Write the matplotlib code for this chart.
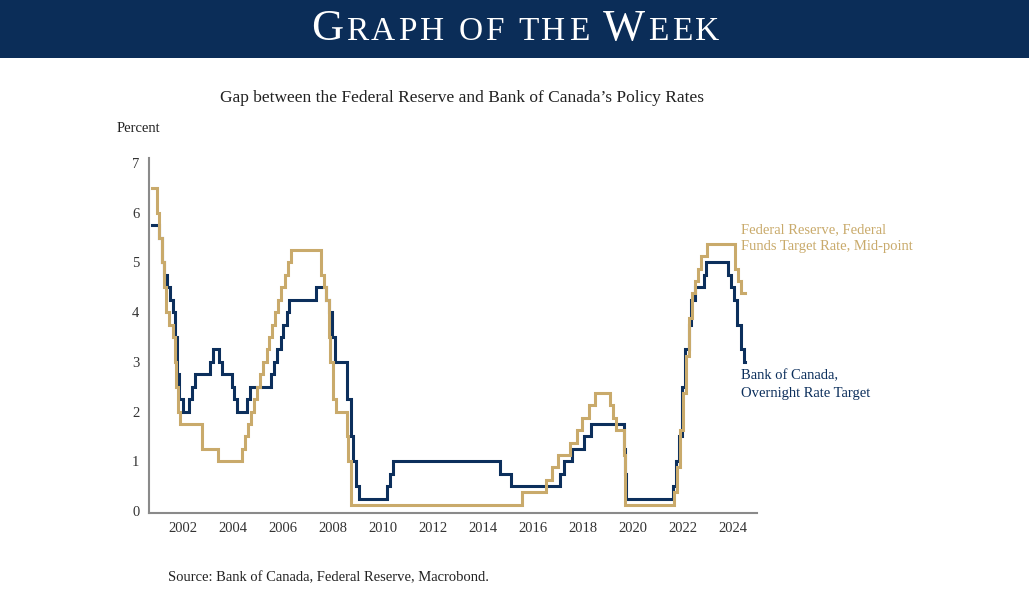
import datetime as dt
import matplotlib
matplotlib.use("Agg")
import matplotlib.pyplot as plt
from matplotlib.patches import Rectangle

# Federal Reserve target rate (mid-point of range after Dec 2008), change dates
fed_dates = ["2000-10-10", "2001-01-03", "2001-01-31", "2001-03-20", "2001-04-18", "2001-05-15",
             "2001-06-27", "2001-08-21", "2001-09-17", "2001-10-02", "2001-11-06", "2001-12-11",
             "2002-11-06", "2003-06-25", "2004-06-30", "2004-08-10", "2004-09-21", "2004-11-10",
             "2004-12-14", "2005-02-02", "2005-03-22", "2005-05-03", "2005-06-30", "2005-08-09",
             "2005-09-20", "2005-11-01", "2005-12-13", "2006-01-31", "2006-03-28", "2006-05-10",
             "2006-06-29", "2007-09-18", "2007-10-31", "2007-12-11", "2008-01-22", "2008-01-30",
             "2008-03-18", "2008-04-30", "2008-10-08", "2008-10-29", "2008-12-16", "2015-12-16",
             "2016-12-14", "2017-03-15", "2017-06-14", "2017-12-13", "2018-03-21", "2018-06-13",
             "2018-09-26", "2018-12-19", "2019-07-31", "2019-09-18", "2019-10-30", "2020-03-03",
             "2020-03-15", "2022-03-16", "2022-05-04", "2022-06-15", "2022-07-27", "2022-09-21",
             "2022-11-02", "2022-12-14", "2023-02-01", "2023-03-22", "2023-05-03", "2023-07-26",
             "2024-09-18", "2024-11-07", "2024-12-18", "2025-02-15"]
fed_rates = [6.5, 6.0, 5.5, 5.0, 4.5, 4.0,
             3.75, 3.5, 3.0, 2.5, 2.0, 1.75,
             1.25, 1.0, 1.25, 1.5, 1.75, 2.0,
             2.25, 2.5, 2.75, 3.0, 3.25, 3.5,
             3.75, 4.0, 4.25, 4.5, 4.75, 5.0,
             5.25, 4.75, 4.5, 4.25, 3.5, 3.0,
             2.25, 2.0, 1.5, 1.0, 0.125, 0.375,
             0.625, 0.875, 1.125, 1.375, 1.625, 1.875,
             2.125, 2.375, 2.125, 1.875, 1.625, 1.125,
             0.125, 0.375, 0.875, 1.625, 2.375, 3.125,
             3.875, 4.375, 4.625, 4.875, 5.125, 5.375,
             4.875, 4.625, 4.375, 4.375]

# Bank of Canada overnight rate target, change dates
boc_dates = ["2000-10-10", "2001-01-23", "2001-03-06", "2001-04-17", "2001-05-29", "2001-07-17",
             "2001-08-28", "2001-09-17", "2001-10-23", "2001-11-27", "2002-01-15", "2002-04-16",
             "2002-06-04", "2002-07-16", "2003-03-04", "2003-04-15", "2003-07-15", "2003-09-03",
             "2004-01-20", "2004-03-02", "2004-04-13", "2004-09-08", "2004-10-19", "2005-09-07",
             "2005-10-18", "2005-12-06", "2006-01-24", "2006-03-07", "2006-04-25", "2006-05-24",
             "2007-07-10", "2007-12-04", "2008-01-22", "2008-03-04", "2008-04-22", "2008-10-08",
             "2008-10-21", "2008-12-09", "2009-01-20", "2009-03-03", "2009-04-21", "2010-06-01",
             "2010-07-20", "2010-09-08", "2015-01-21", "2015-07-15", "2017-07-12", "2017-09-06",
             "2018-01-17", "2018-07-11", "2018-10-24", "2020-03-04", "2020-03-13", "2020-03-27",
             "2022-03-02", "2022-04-13", "2022-06-01", "2022-07-13", "2022-09-07", "2022-10-26",
             "2022-12-07", "2023-01-25", "2023-06-07", "2023-07-12", "2024-06-05", "2024-07-24",
             "2024-09-04", "2024-10-23", "2024-12-11", "2025-01-29", "2025-02-15"]
boc_rates = [5.75, 5.5, 5.0, 4.75, 4.5, 4.25,
             4.0, 3.5, 2.75, 2.25, 2.0, 2.25,
             2.5, 2.75, 3.0, 3.25, 3.0, 2.75,
             2.5, 2.25, 2.0, 2.25, 2.5, 2.75,
             3.0, 3.25, 3.5, 3.75, 4.0, 4.25,
             4.5, 4.25, 4.0, 3.5, 3.0, 2.5,
             2.25, 1.5, 1.0, 0.5, 0.25, 0.5,
             0.75, 1.0, 0.75, 0.5, 0.75, 1.0,
             1.25, 1.5, 1.75, 1.25, 0.75, 0.25,
             0.5, 1.0, 1.5, 2.5, 3.25, 3.75,
             4.25, 4.5, 4.75, 5.0, 4.75, 4.5,
             4.25, 3.75, 3.25, 3.0, 3.0]

years = list(range(2002, 2025, 2))
yticks = list(range(0, 8))

NAVY = "#0c2f5c"
GOLD = "#c9aa6b"
SERIF = ["Liberation Serif", "DejaVu Serif"]


def to_year(s):
    d = dt.date.fromisoformat(s)
    start = dt.date(d.year, 1, 1)
    return d.year + (d - start).days / 365.25


plt.rcParams["font.family"] = SERIF

fig = plt.figure(figsize=(10.29, 6.07), dpi=100)

# banner
fig.patches.append(Rectangle((0, 0.9044), 1, 0.0956, transform=fig.transFigure,
                             facecolor="#0b2d58", edgecolor="none", zorder=0))

# small caps heading, one letter at a time with a little tracking
heading = "GRAPH OF THE WEEK"
big = {0, 13}
track = 3.0
renderer = fig.canvas.get_renderer()
texts = []
widths = []
for i, ch in enumerate(heading):
    size = 32 if i in big else 24
    t = fig.text(0, 0.934, ch, fontsize=size, color="white", va="baseline", ha="left")
    texts.append(t)
    widths.append(t.get_window_extent(renderer).width if ch != " " else size * 0.25 * 100 / 72)
total = sum(widths) + track * (len(heading) - 1)
x0 = 515 - total / 2
for t, w in zip(texts, widths):
    t.set_x(x0 / 1029)
    x0 += w + track

ax = fig.add_axes([0.1448, 0.1549, 0.5906, 0.5848])
ax.plot([to_year(d) for d in boc_dates], boc_rates, drawstyle="steps-post",
        color=NAVY, lw=2.2, solid_joinstyle="miter")
ax.plot([to_year(d) for d in fed_dates], fed_rates, drawstyle="steps-post",
        color=GOLD, lw=2.2, solid_joinstyle="miter")

ax.set_xlim(2000.66, 2025.61)
ax.set_ylim(-0.04, 7.1)
ax.set_xticks([2002.05 + (y - 2002) * 1.026 for y in years])
ax.set_xticklabels([str(y) for y in years])
ax.set_yticks(yticks)
ax.tick_params(axis="both", length=0, labelsize=10.5, colors="#333333")
ax.tick_params(axis="x", pad=6.5)
ax.tick_params(axis="y", pad=7)
for side in ("top", "right"):
    ax.spines[side].set_visible(False)
for side in ("left", "bottom"):
    ax.spines[side].set_color("#8a8a8a")
    ax.spines[side].set_linewidth(1.5)

fig.text(0.449, 0.8386, "Gap between the Federal Reserve and Bank of Canada\u2019s Policy Rates",
         ha="center", va="center", fontsize=12.5, color="#222222")
fig.text(117 / 1029, 0.789, "Percent", ha="left", va="center", fontsize=10.5, color="#222222")
fig.text(0.720, 0.633, "Federal Reserve, Federal\nFunds Target Rate, Mid-point",
         ha="left", va="top", fontsize=10.5, color=GOLD, linespacing=1.45)
fig.text(0.720, 0.391, "Bank of Canada,\nOvernight Rate Target",
         ha="left", va="top", fontsize=10.5, color=NAVY, linespacing=1.45)
fig.text(168 / 1029, 0.0478, "Source: Bank of Canada, Federal Reserve, Macrobond.",
         ha="left", va="center", fontsize=10.5, color="#222222")

fig.savefig("out.png", dpi=100)
